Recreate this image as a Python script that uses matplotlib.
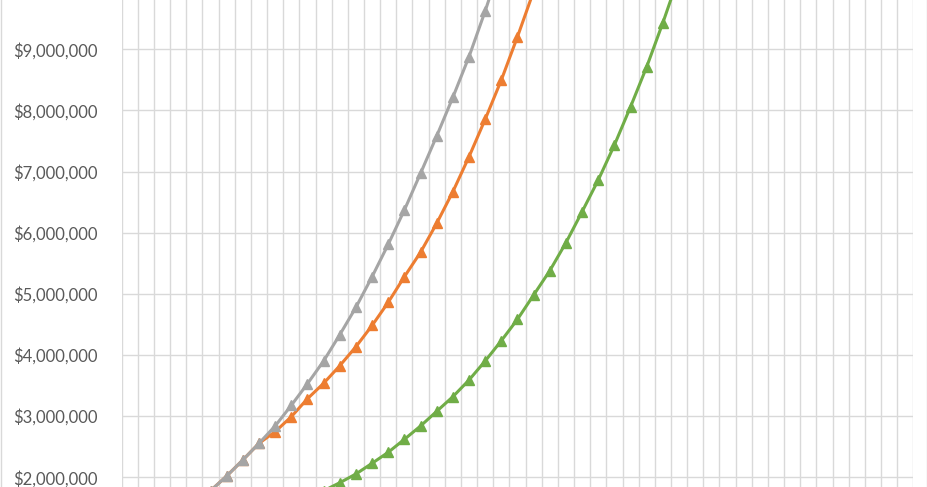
import numpy as np
import matplotlib.pyplot as plt
from matplotlib.ticker import FuncFormatter, MultipleLocator
from matplotlib.lines import Line2D

# Values in $ millions, one per category (NaN where the series has no point)
N_CAT = 49
gray_start = 2
gray_vals = [1.20, 1.38, 1.57, 1.78, 2.021, 2.283, 2.556, 2.839, 3.177, 3.531,
             3.902, 4.332, 4.780, 5.281, 5.811, 6.372, 6.972, 7.582, 8.215,
             8.879, 9.626, 10.43, 11.30]
orange_start = 2
orange_vals = [1.20, 1.38, 1.57, 1.78, 2.021, 2.283, 2.556, 2.746, 2.991, 3.285,
               3.537, 3.825, 4.136, 4.483, 4.862, 5.281, 5.680, 6.154, 6.671,
               7.243, 7.855, 8.498, 9.206, 9.95, 10.75]
green_start = 9
green_vals = [1.40, 1.52, 1.65, 1.78, 1.911, 2.054, 2.229, 2.409, 2.621, 2.839,
              3.079, 3.318, 3.591, 3.902, 4.234, 4.584, 4.981, 5.379, 5.837,
              6.344, 6.862, 7.435, 8.061, 8.715, 9.435, 10.20, 11.00]

ORANGE = "#ED7D31"
GRAY = "#A5A5A5"
GREEN = "#70AD47"
GRID = "#D9D9D9"

fig = plt.figure(figsize=(9.28, 4.87), dpi=100)
ax = fig.add_axes([121.7 / 928, 0, (913.3 - 121.7) / 928, 1])

for start, vals, col in [(orange_start, orange_vals, ORANGE),
                         (gray_start, gray_vals, GRAY),
                         (green_start, green_vals, GREEN)]:
    x = np.arange(start, start + len(vals))
    y = np.array(vals) * 1e6
    ax.plot(x, y, color=col, lw=2.2, marker="^", ms=7.5, mec=col, mfc=col,
            solid_capstyle="round", clip_on=True)

ax.set_xlim(-0.5, N_CAT - 0.5)
ax.set_ylim(1.841e6, 9.806e6)
ax.xaxis.set_major_locator(MultipleLocator(1, offset=0.5))
ax.yaxis.set_major_locator(MultipleLocator(1e6))
ax.yaxis.set_major_formatter(FuncFormatter(lambda v, p: f"${v:,.0f}"))
ax.grid(True, color=GRID, lw=1.0)
ax.set_axisbelow(True)
ax.tick_params(axis="x", length=0, labelbottom=False)
ax.tick_params(axis="y", length=0, pad=17, labelsize=12, labelcolor="#595959")
for lbl in ax.get_yticklabels():
    lbl.set_family(["Lato", "DejaVu Sans"])
for s in ax.spines.values():
    s.set_visible(False)

# chart area border (left and right edges)
fig.add_artist(Line2D([0.5 / 928, 0.5 / 928], [0, 1], color=GRID, lw=1.0))
fig.add_artist(Line2D([927.5 / 928, 927.5 / 928], [0, 1], color=GRID, lw=1.0))

fig.savefig("out.png", dpi=100)
